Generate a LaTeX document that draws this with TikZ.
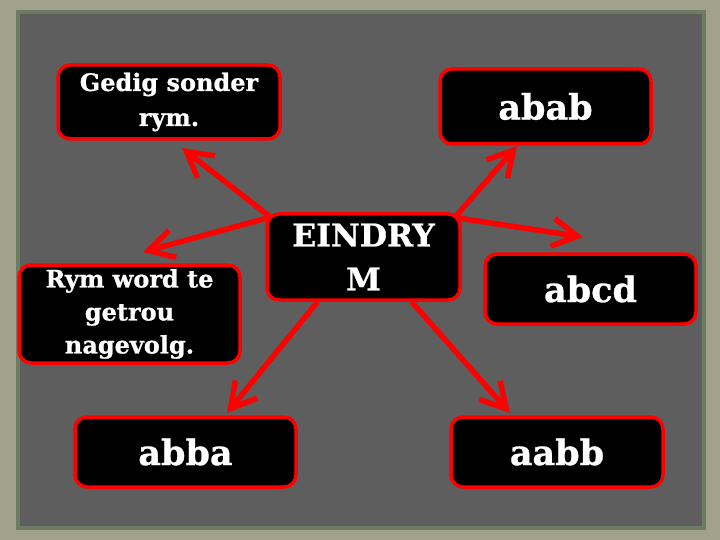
\documentclass[tikz,border=0pt]{standalone}
\usepackage{fontspec}
\setmainfont{DejaVu Serif}[BoldFeatures={FakeBold=0.8}]
\usetikzlibrary{arrows.meta,backgrounds}
\definecolor{outerbg}{HTML}{A1A18C}
\definecolor{framecol}{HTML}{6C7C63}
\definecolor{innerbg}{HTML}{5E5E5E}
\definecolor{myred}{HTML}{FF0000}
\begin{document}
\begin{tikzpicture}[x=1pt,y=-1pt,
 box/.style={draw=myred, line width=3.5pt, fill=black, rounded corners=12pt, text=white,
   font=\bfseries\fontsize{24}{33}\selectfont, align=center, inner sep=0pt},
 bigtext/.style={font=\bfseries\fontsize{35}{40}\selectfont},
 arr/.style={draw=myred, line width=5.5pt,
   -{Straight Barb[length=25pt,width=28pt,line width=5.5pt]}}
]
\useasboundingbox (0,0) rectangle (720,540);

\node[box, font=\bfseries\fontsize{24}{35}\selectfont, minimum width=222pt, minimum height=74pt] (gedig) at (169,102) {Gedig sonder\\rym.};
\node[box, bigtext, minimum width=211pt, minimum height=75pt] (abab) at (545.5,106.5) {abab};
\node[box, font=\bfseries\fontsize{31.5}{44}\selectfont, minimum width=193pt, minimum height=86pt] (c) at (363.5,257) {EINDRY\\M};
\node[box, bigtext, minimum width=211pt, minimum height=70pt] (abcd) at (590.5,289) {abcd};
\node[box, minimum width=221pt, minimum height=98pt] (rym) at (129.5,314) {Rym word te\\getrou\\nagevolg.};
\node[box, bigtext, minimum width=221pt, minimum height=70pt] (abba) at (185.5,452) {abba};
\node[box, bigtext, minimum width=212pt, minimum height=70pt] (aabb) at (557,452) {aabb};

\coordinate (t1) at (182,148);
\coordinate (t2) at (143,252);
\coordinate (t3) at (517,146);
\coordinate (t4) at (583,237);
\coordinate (t5) at (227,413);
\coordinate (t6) at (510,413);

\begin{pgfonlayer}{background}
\fill[outerbg] (0,0) rectangle (720,540);
\draw[framecol, line width=4pt, fill=innerbg] (18,12) rectangle (704,528);
\draw[arr] ([shift={(4pt,-4pt)}]c.north west) -- (t1);
\draw[arr] ([shift={(2pt,39pt)}]c.west) -- (t2);
\draw[arr] ([shift={(-6pt,-4pt)}]c.north east) -- (t3);
\draw[arr] ([shift={(-4pt,39pt)}]c.east) -- (t4);
\draw[arr] ([shift={(-46pt,0pt)}]c.south) -- (t5);
\draw[arr] ([shift={(48pt,0pt)}]c.south) -- (t6);
\end{pgfonlayer}
\end{tikzpicture}
\end{document}
